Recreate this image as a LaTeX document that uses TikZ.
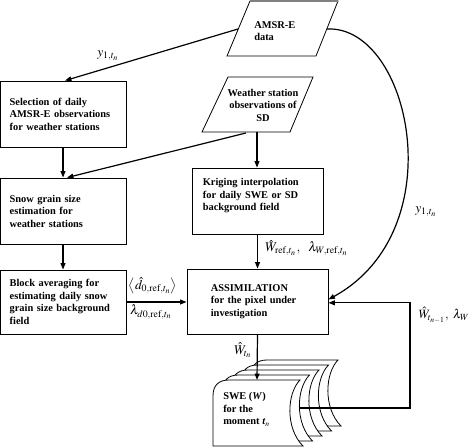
\documentclass[tikz,border=0pt]{standalone}
\usepackage{mathptmx}
\usepackage[no-math]{fontspec}
\setmainfont{Liberation Serif}
\usetikzlibrary{arrows.meta,calc}
\begin{document}
\begin{tikzpicture}[x=0.75pt,y=-0.75pt,
  boxfont/.style={font=\fontsize{7.8}{9.4}\selectfont\bfseries},
  box/.style={draw,line width=0.6pt,rectangle,align=left,boxfont,inner ysep=0pt},
  ptext/.style={boxfont,inner sep=0pt},
  shapeline/.style={line width=0.6pt},
  arr/.style={line width=0.9pt,-{Triangle[length=4.8pt,width=3.6pt]}},
  lab/.style={font=\fontsize{10}{11}\selectfont,inner sep=0pt}]
\useasboundingbox (0,0) rectangle (474,448);

% parallelograms
\draw[shapeline] (250,1) -- (338,1) -- (316,56) -- (227,56) -- cycle;
\draw[gray,line width=1.2pt] (250,0.8) -- (338,0.8);
\node[ptext,anchor=west,align=left] (amsr) at (254,31) {AMSR-E\\data};
\draw[shapeline] (228,77) -- (313,77) -- (290,132) -- (202,132) -- cycle;
\node[ptext,align=center] (ws) at (263,105) {Weather station\\observations of\\SD};

% boxes
\node[box,minimum width=94.5pt,minimum height=49.5pt,text width=80pt,inner xsep=7.25pt] (sel) at (63,114)
  {Selection of daily\\AMSR-E observations\\for weather stations};
\node[box,minimum width=94.5pt,minimum height=49.5pt,text width=80pt,inner xsep=7.25pt] (sn) at (63,211)
  {Snow grain size\\estimation for\\weather stations};
\node[box,minimum width=94.5pt,minimum height=48pt,text width=80pt,inner xsep=7.25pt] (blk) at (63,302)
  {Block averaging for\\estimating daily snow\\grain size background\\field};
\node[box,minimum width=98.25pt,minimum height=49.5pt,text width=82pt,inner xsep=8.1pt] (krig) at (257.5,201)
  {Kriging interpolation\\for daily SWE or SD\\background field\\\mbox{}};
\node[box,minimum width=105.75pt,minimum height=48.75pt,text width=70pt,inner xsep=17.9pt] (assim) at (257.5,301.5)
  {ASSIMILATION\\for the pixel under\\investigation};

% stack of documents
\foreach \k in {4,3,2,1,0}{
  \begin{scope}[shift={(9.5*\k,-5*\k)}]
    \draw[shapeline,fill=white] (213,446) -- (213,396) .. controls (213,385) and (219,380) .. (229,380)
      -- (300,380) .. controls (287,393) and (285,428) .. (303,446) -- cycle;
  \end{scope}
}
\node[ptext,anchor=west,align=left] (doc) at (223,409.5) {SWE (\textit{W})\\for the\\moment \textit{t}$_n$};

% coordinates
\coordinate (amsrL) at (238,29);
\coordinate (amsrR) at (327,29);
\coordinate (wsB) at (246,133);
\coordinate (wsV) at (257,132);
\coordinate (docTop) at (257,380);
\coordinate (fbStart) at (300,408);
\coordinate (fbCorner) at (410,408);

% connectors
\draw[arr] (amsrL) -- ([xshift=1.5pt]sel.north);
\draw[arr] (sel.south) -- (sn.north);
\draw[arr] (wsB) -- ([xshift=3pt]sn.north);
\draw[arr] (wsV) -- (wsV |- krig.north);
\draw[arr] (sn.south) -- (blk.north);
\draw[arr] (krig.south) -- (krig.south |- assim.north);
\draw[arr] (blk.east) -- (blk.east -| assim.west);
\draw[arr] (assim.south) -- (docTop);
\draw[arr] (amsrR) .. controls (410,25) and (455,230) .. ([yshift=1.5pt]assim.east);
\draw[arr] (fbStart) -- (fbCorner) |- ([yshift=-1pt]assim.east);

% labels
\node[lab] (l1) at (108,56) {$y_{1,t_n}$};
\node[lab] (l2) at (426,212) {$y_{1,t_n}$};
\node[lab,anchor=west] (l3) at (265,248) {$\hat{W}_{\mathrm{ref},t_n},\ \ \lambda_{W,\mathrm{ref},t_n}$};
\node[lab] (l4) at (153,286) {$\left\langle \hat{d}_{0,\mathrm{ref},t_n}\right\rangle$};
\node[lab] (l5) at (151,312) {$\lambda_{d0,\mathrm{ref},t_n}$};
\node[lab,font=\fontsize{9.5}{11}\selectfont] (l6) at (444,315) {$\hat{W}_{t_{n-1}},\ \lambda_W$};
\node[lab] (l7) at (243,350) {$\hat{W}_{t_n}$};
\end{tikzpicture}
\end{document}
